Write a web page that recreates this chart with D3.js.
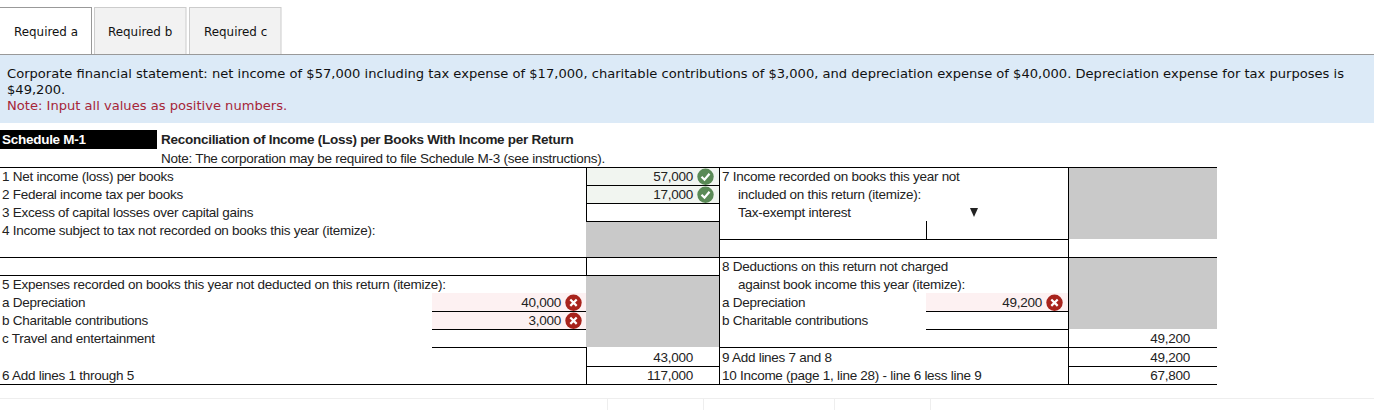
<!DOCTYPE html>
<html>
<head>
<meta charset="utf-8">
<script src="https://cdn.jsdelivr.net/npm/d3@7"></script>
<style>
  body { margin: 0; background: #fff; }
  svg { display: block; }
  .tab { font-family: "DejaVu Sans", Verdana, sans-serif; font-size: 11.9px; }
  .intro { font-family: "DejaVu Sans", Verdana, sans-serif; font-size: 13.08px; }
  .cell { font-family: "Liberation Sans", Arial, sans-serif; font-size: 13.5px; letter-spacing: -0.27px; fill: #222; }
</style>
</head>
<body>
<div id="chart"></div>
<script>
const width = 1374, height = 410;

const tabLabels = ["Required a", "Required b", "Required c"];
const introLines = [
    "Corporate financial statement: net income of $57,000 including tax expense of $17,000, charitable contributions of $3,000, and depreciation expense of $40,000. Depreciation expense for tax purposes is",
    "$49,200."
];
const introNote = "Note: Input all values as positive numbers.";
const scheduleName = "Schedule M-1";
const scheduleTitle = "Reconciliation of Income (Loss) per Books With Income per Return";
const scheduleNote = "Note: The corporation may be required to file Schedule M-3 (see instructions).";

// one entry per table row, "" or null when the row has nothing in that column
const leftLabels = [
    "1 Net income (loss) per books",
    "2 Federal income tax per books",
    "3 Excess of capital losses over capital gains",
    "4 Income subject to tax not recorded on books this year (itemize):",
    "", "",
    "5 Expenses recorded on books this year not deducted on this return (itemize):",
    "a Depreciation",
    "b Charitable contributions",
    "c Travel and entertainment",
    "",
    "6 Add lines 1 through 5"
];
const rightLabels = [
    "7 Income recorded on books this year not",
    "", "", "", "",
    "8 Deductions on this return not charged",
    "",
    "a Depreciation",
    "b Charitable contributions",
    "",
    "9 Add lines 7 and 8",
    "10 Income (page 1, line 28) - line 6 less line 9"
];
const rightIndented = ["", "included on this return (itemize):", "Tax-exempt interest", "", "", "", "against book income this year (itemize):", "", "", "", "", ""];

const amountValues = [57000, 17000, null, null, null, null, null, null, null, null, 43000, 117000];
const amountStatus = ["ok", "ok", null, null, null, null, null, null, null, null, null, null];
const itemValues = [null, null, null, null, null, null, null, 40000, 3000, null, null, null];
const itemStatus = [null, null, null, null, null, null, null, "bad", "bad", null, null, null];
const deductionValues = [null, null, null, null, null, null, null, 49200, null, null, null, null];
const deductionStatus = [null, null, null, null, null, null, null, "bad", null, null, null, null];
const totalValues = [null, null, null, null, null, null, null, null, null, 49200, 49200, 67800];

const fmt = d3.format(",");

const svg = d3.select("#chart")
    .append("svg")
    .attr("width", width)
    .attr("height", height)
    .attr("viewBox", [0, 0, width, height]);

// table layout
const y = d3.scaleLinear().domain([0, 10, 11, 12]).range([167, 347, 366, 384]);
const x = d3.scaleOrdinal()
    .domain(["left", "item", "amount", "right", "deduction", "total", "end"])
    .range([0, 432, 586, 719, 926, 1068, 1217]);

// [column from, column to, row from, row to]
const greyCells = [
    ["amount", "right", 3, 5],
    ["amount", "right", 6, 10],
    ["total", "end", 0, 4],
    ["total", "end", 5, 9]
];
const tintCells = [
    ["amount", "right", 0, 2, "#f1f5f0"],
    ["item", "amount", 7, 9, "#fdf1f2"],
    ["deduction", "total", 7, 8, "#fdf1f2"]
];
// [row, column from, column to]
const hRules = [
    [0, "left", "end"], [1, "amount", "right"], [2, "amount", "right"], [3, "amount", "right"],
    [4, "right", "total"], [5, "left", "end"], [6, "left", "right"],
    [8, "item", "amount"], [8, "deduction", "total"],
    [9, "item", "amount"], [9, "deduction", "total"],
    [10, "item", "amount"], [10, "right", "end"],
    [11, "amount", "right"], [11, "total", "end"],
    [12, "left", "end"]
];
// [column, row from, row to]
const vRules = [
    ["amount", 0, 3], ["amount", 5, 6], ["amount", 10, 12],
    ["right", 0, 12], ["total", 0, 12], ["deduction", 3, 4]
];

// tabs
const tabX = d3.scaleBand().domain(tabLabels).range([-1, 281]).paddingInner(3 / 95);
const tabs = svg.selectAll("g.tabitem").data(tabLabels).join("g").attr("class", "tabitem");
tabs.append("rect")
    .attr("x", (d, i) => i ? tabX(d) + 0.5 : -2)
    .attr("y", 7.5)
    .attr("width", (d, i) => i ? tabX.bandwidth() - 0.5 : tabX.bandwidth() + 1.5)
    .attr("height", 47)
    .attr("fill", (d, i) => i ? "#f2f2f2" : "#fff")
    .attr("stroke", (d, i) => i ? "#ccc" : "#999");
tabs.append("text")
    .attr("class", "tab")
    .attr("x", (d, i) => tabX(d) + (i === 1 ? 14 : 15))
    .attr("y", 36)
    .attr("fill", "#111")
    .text(d => d);

svg.append("line")
    .attr("x1", 91).attr("x2", width)
    .attr("y1", 54.5).attr("y2", 54.5)
    .attr("stroke", "#999");

// question text
svg.append("rect")
    .attr("x", 0).attr("y", 55)
    .attr("width", width).attr("height", 68)
    .attr("fill", "#dceaf7");
svg.selectAll("text.introline").data(introLines).join("text")
    .attr("class", "intro introline")
    .attr("x", 7)
    .attr("y", (d, i) => 78 + i * 16)
    .attr("fill", "#111")
    .text(d => d);
svg.append("text")
    .attr("class", "intro")
    .attr("x", 7).attr("y", 110)
    .attr("fill", "#a62639")
    .text(introNote);

// schedule header
svg.append("rect")
    .attr("x", 0).attr("y", 130)
    .attr("width", 157).attr("height", 19)
    .attr("fill", "#000");
svg.append("text")
    .attr("class", "cell")
    .attr("x", 2).attr("y", 144)
    .attr("font-weight", "bold")
    .style("fill", "#fff")
    .text(scheduleName);
svg.append("text")
    .attr("class", "cell")
    .attr("x", 161).attr("y", 144)
    .attr("font-weight", "bold")
    .text(scheduleTitle);
svg.append("text")
    .attr("class", "cell")
    .attr("x", 161).attr("y", 163)
    .text(scheduleNote);

// shaded cells
svg.selectAll("rect.grey").data(greyCells).join("rect")
    .attr("class", "grey")
    .attr("x", d => x(d[0]))
    .attr("y", d => y(d[2]))
    .attr("width", d => x(d[1]) - x(d[0]))
    .attr("height", d => y(d[3]) - y(d[2]))
    .attr("fill", "#c9c9c9");
svg.selectAll("rect.tint").data(tintCells).join("rect")
    .attr("class", "tint")
    .attr("x", d => x(d[0]))
    .attr("y", d => y(d[2]))
    .attr("width", d => x(d[1]) - x(d[0]))
    .attr("height", d => y(d[3]) - y(d[2]))
    .attr("fill", d => d[4]);

// rules
svg.selectAll("line.hrule").data(hRules).join("line")
    .attr("class", "hrule")
    .attr("x1", d => x(d[1]))
    .attr("x2", d => x(d[2]))
    .attr("y1", d => y(d[0]) + 0.5)
    .attr("y2", d => y(d[0]) + 0.5)
    .attr("stroke", "#000");
svg.selectAll("line.vrule").data(vRules).join("line")
    .attr("class", "vrule")
    .attr("x1", d => x(d[0]) + 0.5)
    .attr("x2", d => x(d[0]) + 0.5)
    .attr("y1", d => y(d[1]))
    .attr("y2", d => y(d[2]))
    .attr("stroke", "#000");

// labels
const baseline = i => y(i + 0.78);
function labelColumn(labels, xPos) {
    svg.append("g").selectAll("text")
        .data(labels.map((t, i) => ({t, i})).filter(d => d.t))
        .join("text")
        .attr("class", "cell")
        .attr("x", xPos)
        .attr("y", d => baseline(d.i))
        .text(d => d.t);
}
labelColumn(leftLabels, 2);
labelColumn(rightLabels, 722);
labelColumn(rightIndented, 738);

// numbers, right aligned, with the marking icons next to them
function valueColumn(values, status, xRight) {
    const rows = values.map((v, i) => ({v, i, s: status ? status[i] : null})).filter(d => d.v !== null);
    svg.append("g").selectAll("text")
        .data(rows)
        .join("text")
        .attr("class", "cell")
        .attr("text-anchor", "end")
        .attr("x", xRight)
        .attr("y", d => baseline(d.i))
        .text(d => fmt(d.v));

    const icons = svg.append("g").selectAll("g")
        .data(rows.filter(d => d.s))
        .join("g")
        .attr("transform", d => `translate(${xRight + 12.5},${y(d.i) + 9.7})`);
    icons.append("circle")
        .attr("r", 8.2)
        .attr("fill", d => d.s === "ok" ? "#5a8a56" : "#a8231c");
    icons.append("path")
        .attr("d", d => d.s === "ok" ? "M-4,0L-1,3L4,-3" : "M-3.2,-3.2L3.2,3.2M3.2,-3.2L-3.2,3.2")
        .attr("fill", "none")
        .attr("stroke", "#fff")
        .attr("stroke-width", 2.2);
}
valueColumn(amountValues, amountStatus, 693);
valueColumn(itemValues, itemStatus, 561);
valueColumn(deductionValues, deductionStatus, 1042);
valueColumn(totalValues, null, 1190);

// dropdown arrow of the tax-exempt interest row
svg.append("path")
    .attr("d", "M970,208L978,208L974,217Z")
    .attr("fill", "#222");

// faint edge of the next panel at the bottom
svg.append("line")
    .attr("x1", 0).attr("x2", width)
    .attr("y1", 398.5).attr("y2", 398.5)
    .attr("stroke", "#eee");
svg.selectAll("line.stub").data([607, 703, 834, 930]).join("line")
    .attr("class", "stub")
    .attr("x1", d => d + 0.5).attr("x2", d => d + 0.5)
    .attr("y1", 399).attr("y2", height)
    .attr("stroke", "#eee");
</script>
</body>
</html>
